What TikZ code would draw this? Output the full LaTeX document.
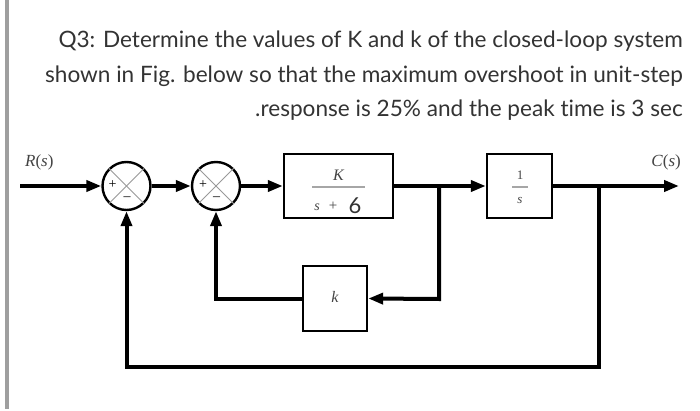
\documentclass[tikz,border=0pt]{standalone}
\usepackage{fontspec}
\setmainfont{Liberation Serif}
\newfontfamily\lato[Ligatures=NoCommon]{Lato}
\usetikzlibrary{arrows.meta}
\definecolor{txt}{HTML}{333333}
\definecolor{lbl}{HTML}{444444}
\begin{document}
\begin{tikzpicture}[x=1pt,y=-1pt,
  sig/.style={line width=4pt},
  sigarr/.style={line width=4pt,-{Triangle[length=15pt,width=11pt]}},
  blockbox/.style={draw,line width=2.4pt,minimum width=#1,inner sep=0pt},
  sumnode/.style={draw,circle,line width=2.4pt,minimum size=48pt,inner sep=0pt},
  para/.style={anchor=base east,font=\lato\fontsize{22.6}{26}\selectfont,text=txt,inner sep=0pt},
  lab/.style={font=\fontsize{17}{20}\selectfont,text=lbl,inner sep=0pt},
  xline/.style={draw=gray!80,line width=1pt}
]
\useasboundingbox (0,0) rectangle (700,411);
\fill[gray!75] (5,0) rectangle (9,409);

% question text
\node[para] (t1) at (683,48) {Q3: Determine the values of K and k of the closed-loop system};
\node[para] (t2) at (683,82.5) {shown in Fig. below so that the maximum overshoot in unit-step};
\node[para] (t3) at (683,117) {.response is 25\% and the peak time is 3 sec};

% summing junctions
\node[sumnode] (s1) at (126.5,186) {};
\node[sumnode] (s2) at (216,186) {};
\foreach \s in {s1,s2}{
  \draw[xline] (\s.north west) -- (\s.south east);
  \draw[xline] (\s.north east) -- (\s.south west);
}
\node[font=\fontsize{14}{14}\selectfont,inner sep=0pt] (p1) at (112.5,185) {+};
\node[font=\fontsize{14}{14}\selectfont,inner sep=0pt] (m1) at (127,198.5) {\textendash};
\node[font=\fontsize{14}{14}\selectfont,inner sep=0pt] (p2) at (203,185) {+};
\node[font=\fontsize{14}{14}\selectfont,inner sep=0pt] (m2) at (216.5,198.5) {\textendash};

% blocks
\node[blockbox=109pt,minimum height=64pt] (b1) at (338.5,186) {};
\draw[draw=gray!70,line width=1.2pt] (312,187) -- (365,187);
\node[anchor=base,inner sep=0pt,font=\itshape\fontsize{16}{16}\selectfont,text=lbl] (kK) at (338.5,181) {K};
\node[anchor=base,inner sep=0pt,font=\itshape\fontsize{14}{14}\selectfont,text=lbl] (ks) at (317,211) {s};
\node[anchor=base,inner sep=0pt,font=\fontsize{15}{15}\selectfont,text=lbl] (kp) at (333,211) {+};
\node[anchor=base,inner sep=0pt,font=\lato\fontsize{22}{22}\selectfont,text=txt] (k6) at (355,214) {6};

\node[blockbox=65pt,minimum height=64pt] (b2) at (519.5,186) {};
\draw[draw=gray!70,line width=1.2pt] (512,187) -- (528,187);
\node[anchor=base,inner sep=0pt,font=\fontsize{13}{13}\selectfont,text=lbl] (one) at (520,180) {1};
\node[anchor=base,inner sep=0pt,font=\itshape\fontsize{13}{13}\selectfont,text=lbl] (ss) at (520,204) {s};

\node[blockbox=64pt,minimum height=65pt] (kb) at (335,298.5) {};
\node[inner sep=0pt,font=\itshape\fontsize{16}{16}\selectfont,text=lbl] (kl) at (335,297) {k};

% labels
\node[lab,anchor=base west] (R) at (25,166.5) {\textit{R}(\textit{s})};
\node[lab,anchor=base east] (C) at (681,166.5) {\textit{C}(\textit{s})};

% coordinates
\coordinate (in) at (20,186);
\coordinate (out) at (679,186);
\coordinate (br1) at (439,186);
\coordinate (br2) at (599,186);
\coordinate (kr) at (439,299);
\coordinate (kl2) at (217,299);
\coordinate (or) at (599,367);
\coordinate (ol) at (126.5,367);

% forward path
\draw[sigarr] (in) -- (s1);
\draw[sigarr] (s1) -- (s2);
\draw[sigarr] (s2) -- (b1);
\draw[sigarr] (b1.east) -- (b2.west);
\draw[sigarr] (b2.east) -- (out);

% inner feedback
\draw[sigarr,line join=miter] (br1) -- (kr) -- (kb.east);
\draw[sigarr,line join=miter] (kb.west) -| (s2.south);

% outer feedback
\draw[sigarr,line join=miter] (br2) -- (or) -- (ol) -- (s1.south);
\end{tikzpicture}
\end{document}
